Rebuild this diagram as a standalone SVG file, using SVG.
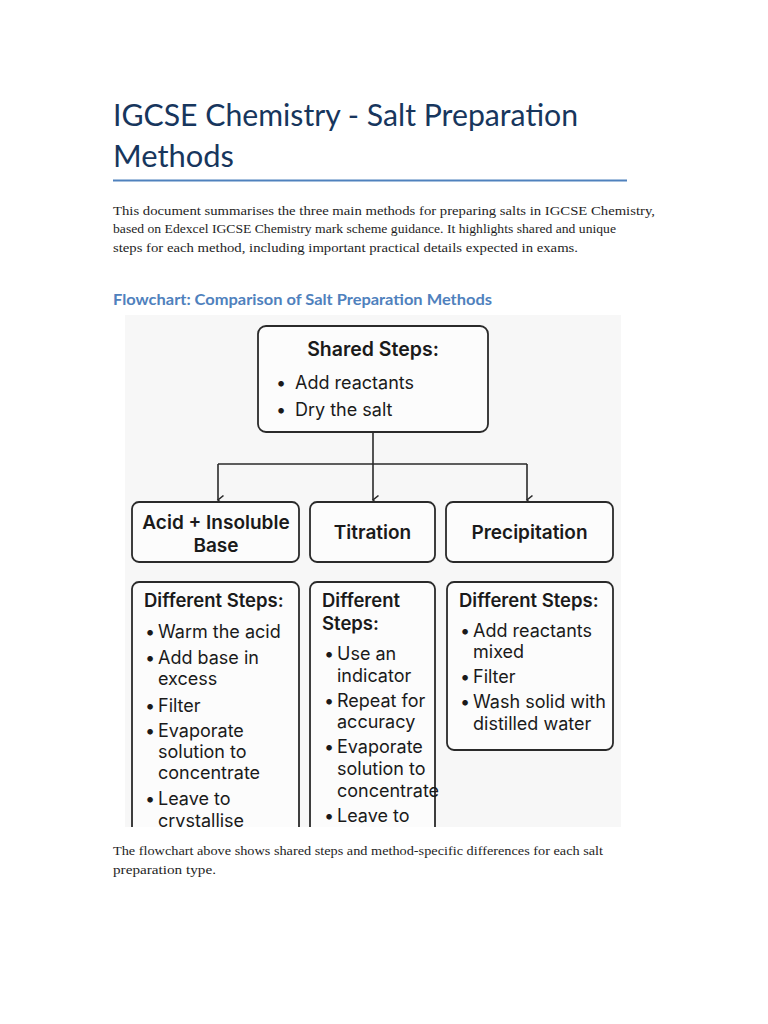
<svg xmlns="http://www.w3.org/2000/svg" width="768" height="1024" viewBox="0 0 768 1024">
<style>
.title{font-family:Lato,"Liberation Sans",sans-serif;font-size:30px;fill:#17365d}
.para{font-family:"Liberation Serif",serif;font-size:13.5px;fill:#1e1e1e}
.h2{font-family:Lato,"Liberation Sans",sans-serif;font-size:16px;font-weight:bold;fill:#4f81bd}
.box{fill:#fcfcfc;stroke:#2a2a2a;stroke-width:1.8}
.hd{font-family:Inter,"Liberation Sans",sans-serif;font-weight:600;fill:#1a1a1a}
.tx{font-family:Inter,"Liberation Sans",sans-serif;font-size:18px;fill:#1a1a1a}
.con{fill:none;stroke:#2a2a2a;stroke-width:1.6}
</style>
<defs>
<marker id="arr" viewBox="0 0 12 10" refX="6" refY="8" markerWidth="12" markerHeight="10" markerUnits="userSpaceOnUse" orient="auto">
<path d="M1.5,2.5 L6,8 L10.5,2.5" fill="none" stroke="#2a2a2a" stroke-width="1.6"/>
</marker>
<clipPath id="img"><rect x="125" y="315" width="496" height="512"/></clipPath>
</defs>
<rect width="768" height="1024" fill="#ffffff"/>
<text class="title" x="113" y="126" textLength="465" lengthAdjust="spacingAndGlyphs">IGCSE Chemistry - Salt Preparation</text>
<text class="title" x="113" y="167" textLength="121" lengthAdjust="spacingAndGlyphs">Methods</text>
<line x1="113" y1="180.5" x2="627" y2="180.5" stroke="#4f81bd" stroke-width="2"/>
<text class="para" x="113" y="215" textLength="542" lengthAdjust="spacingAndGlyphs">This document summarises the three main methods for preparing salts in IGCSE Chemistry,</text>
<text class="para" x="113" y="233" textLength="503" lengthAdjust="spacingAndGlyphs">based on Edexcel IGCSE Chemistry mark scheme guidance. It highlights shared and unique</text>
<text class="para" x="113" y="252" textLength="465" lengthAdjust="spacingAndGlyphs">steps for each method, including important practical details expected in exams.</text>
<text class="h2" x="113" y="305" textLength="379" lengthAdjust="spacingAndGlyphs">Flowchart: Comparison of Salt Preparation Methods</text>
<g clip-path="url(#img)">
<rect x="125" y="315" width="496" height="512" fill="#f7f7f7"/>
<g id="connectors">
<path class="con" d="M373,432 V464"/>
<path class="con" d="M218,464 H527"/>
<line class="con" x1="218" y1="464" x2="218" y2="500" marker-end="url(#arr)"/>
<line class="con" x1="373" y1="464" x2="373" y2="500" marker-end="url(#arr)"/>
<line class="con" x1="527" y1="464" x2="527" y2="500" marker-end="url(#arr)"/>
</g>
<g id="shared">
<rect class="box" x="258" y="326" width="230" height="106" rx="8"/>
<text class="hd" x="373" y="356" font-size="19.5" text-anchor="middle">Shared Steps:</text>
<text class="tx" x="276" y="389" font-size="19.5">•</text>
<text class="tx" x="295" y="389" font-size="19.5">Add reactants</text>
<text class="tx" x="276" y="416" font-size="19.5">•</text>
<text class="tx" x="295" y="416" font-size="19.5">Dry the salt</text>
</g>
<g id="acid">
<rect class="box" x="132" y="502" width="167" height="60" rx="7"/>
<text class="hd" x="216" y="529" font-size="19" text-anchor="middle">Acid + Insoluble</text>
<text class="hd" x="216" y="552" font-size="19" text-anchor="middle">Base</text>
</g>
<g id="titration">
<rect class="box" x="310" y="502" width="125" height="60" rx="7"/>
<text class="hd" x="372.5" y="539" font-size="19" text-anchor="middle">Titration</text>
</g>
<g id="precipitation">
<rect class="box" x="446" y="502" width="167" height="60" rx="7"/>
<text class="hd" x="529.5" y="539" font-size="19" text-anchor="middle">Precipitation</text>
</g>
<g id="acid-steps">
<rect class="box" x="132" y="582" width="167" height="300" rx="7"/>
<text class="hd" x="144" y="607" font-size="18.5">Different Steps:</text>
<text class="tx" x="145" y="638">•</text><text class="tx" x="158" y="638">Warm the acid</text>
<text class="tx" x="145" y="664">•</text><text class="tx" x="158" y="664">Add base in</text>
<text class="tx" x="158" y="685">excess</text>
<text class="tx" x="145" y="712">•</text><text class="tx" x="158" y="712">Filter</text>
<text class="tx" x="145" y="737">•</text><text class="tx" x="158" y="737">Evaporate</text>
<text class="tx" x="158" y="758">solution to</text>
<text class="tx" x="158" y="779">concentrate</text>
<text class="tx" x="145" y="805">•</text><text class="tx" x="158" y="805">Leave to</text>
<text class="tx" x="158" y="827">crystallise</text>
</g>
<g id="titration-steps">
<rect class="box" x="310" y="582" width="125" height="300" rx="7"/>
<text class="hd" x="322" y="607" font-size="18.5">Different</text>
<text class="hd" x="322" y="630" font-size="18.5">Steps:</text>
<text class="tx" x="324" y="660">•</text><text class="tx" x="337" y="660">Use an</text>
<text class="tx" x="337" y="682">indicator</text>
<text class="tx" x="324" y="707">•</text><text class="tx" x="337" y="707">Repeat for</text>
<text class="tx" x="337" y="728">accuracy</text>
<text class="tx" x="324" y="753">•</text><text class="tx" x="337" y="753">Evaporate</text>
<text class="tx" x="337" y="775">solution to</text>
<text class="tx" x="337" y="797">concentrate</text>
<text class="tx" x="324" y="822">•</text><text class="tx" x="337" y="822">Leave to</text>
</g>
<g id="precipitation-steps">
<rect class="box" x="447" y="582" width="166" height="168" rx="7"/>
<text class="hd" x="459" y="607" font-size="18.5">Different Steps:</text>
<text class="tx" x="460" y="637">•</text><text class="tx" x="473" y="637">Add reactants</text>
<text class="tx" x="473" y="658">mixed</text>
<text class="tx" x="460" y="683">•</text><text class="tx" x="473" y="683">Filter</text>
<text class="tx" x="460" y="708">•</text><text class="tx" x="473" y="708">Wash solid with</text>
<text class="tx" x="473" y="730">distilled water</text>
</g>
</g>
<text class="para" x="113" y="855" textLength="490" lengthAdjust="spacingAndGlyphs">The flowchart above shows shared steps and method-specific differences for each salt</text>
<text class="para" x="113" y="874" textLength="103" lengthAdjust="spacingAndGlyphs">preparation type.</text>
</svg>
